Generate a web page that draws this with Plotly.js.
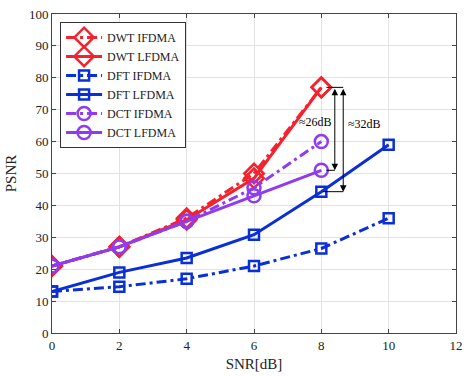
<!DOCTYPE html>
<html><head><meta charset="utf-8">
<script src="https://cdn.plot.ly/plotly-3.0.1.min.js"></script>
<style>html,body{margin:0;padding:0;background:#fff}#g{width:474px;height:376px}</style>
</head><body><div id="g"></div>
<script>
const snr = [0, 2, 4, 6, 8, 10];
const dwtIFDMA = [21, 27, 36, 50, 77];
const dwtLFDMA = [21, 27, 35.5, 48.5, 77];
const dftIFDMA = [13, 14.5, 17, 21, 26.5, 36];
const dftLFDMA = [13, 19, 23.5, 30.8, 44.3, 59];
const dctIFDMA = [21, 27, 35, 45.5, 60];
const dctLFDMA = [21, 27, 35, 43, 51];
const names = ['DWT IFDMA','DWT LFDMA','DFT IFDMA','DFT LFDMA','DCT IFDMA','DCT LFDMA'];
const gapLabels = ['≈26dB', '≈32dB'];

(function () {
const red = '#f5222d', blue = '#0a2fd6', purple = '#8f3cf0';
const dd = '10px,4px,3px,4px';
function tr(y, name, color, sym, size, dash) {
  return {x: snr.slice(0, y.length), y: y, name: name, type: 'scatter', mode: 'lines+markers',
    line: {color: color, width: 3, dash: dash},
    marker: {symbol: sym, size: size, color: color, line: {color: color, width: 2.5}}};
}
const data = [
  tr(dwtIFDMA, names[0], red, 'diamond-open', 15, dd),
  tr(dwtLFDMA, names[1], red, 'diamond-open', 15, 'solid'),
  tr(dftIFDMA, names[2], blue, 'square-open', 10, dd),
  tr(dftLFDMA, names[3], blue, 'square-open', 10, 'solid'),
  tr(dctIFDMA, names[4], purple, 'circle-open', 13, dd),
  tr(dctLFDMA, names[5], purple, 'circle-open', 13, 'solid')
];
const yTop = dwtLFDMA[4], b1 = dctLFDMA[4], b2 = dftLFDMA[4];
const xa1 = 8.4, xa2 = 8.65;
const arrowStyle = {showarrow: true, arrowhead: 2, arrowsize: 1.3, arrowwidth: 1, arrowcolor: '#000',
  axref: 'x', ayref: 'y', text: '', arrowside: 'end+start'};
const annotations = [
  Object.assign({}, arrowStyle, {x: xa1, y: b1, ax: xa1, ay: yTop}),
  Object.assign({}, arrowStyle, {x: xa2, y: b2, ax: xa2, ay: yTop}),
  {x: xa1 - 0.02, y: (yTop + b1) / 2 + 2, text: gapLabels[0], showarrow: false, xanchor: 'right',
   font: {family: 'Liberation Serif, serif', size: 12, color: '#000'}},
  {x: xa2 + 0.08, y: (yTop + b2) / 2 + 5, text: gapLabels[1], showarrow: false, xanchor: 'left',
   font: {family: 'Liberation Serif, serif', size: 12, color: '#000'}}
];
const shapes = [
  {type: 'line', x0: 8.15, x1: xa2, y0: yTop, y1: yTop, line: {color: '#000', width: 1}},
  {type: 'line', x0: 8.15, x1: xa1, y0: b1, y1: b1, line: {color: '#000', width: 1}},
  {type: 'line', x0: 8.05, x1: xa2, y0: b2, y1: b2, line: {color: '#000', width: 1}}
];
const font = {family: 'Liberation Serif, DejaVu Serif, serif', size: 13, color: '#222'};
const layout = {
  width: 474, height: 376,
  margin: {l: 52, r: 18, t: 14, b: 43},
  paper_bgcolor: '#fff', plot_bgcolor: '#fff',
  font: font,
  showlegend: true,
  legend: {x: 0.02, y: 0.975, xanchor: 'left', yanchor: 'top', bgcolor: '#fff',
    bordercolor: '#333', borderwidth: 1, font: {family: font.family, size: 12, color: '#222'},
    itemwidth: 36, tracegroupgap: 0},
  xaxis: {range: [0, 12], dtick: 2, tick0: 0, showgrid: true, gridcolor: '#e3e3e3', zeroline: false,
    ticks: 'inside', ticklen: 4, tickcolor: '#444', showline: true, linecolor: '#444', linewidth: 1, mirror: 'ticks',
    title: {text: 'SNR[dB]', font: {family: font.family, size: 15, color: '#222'}, standoff: 6}},
  yaxis: {range: [0, 100], dtick: 10, showgrid: true, gridcolor: '#e3e3e3', zeroline: false,
    ticks: 'inside', ticklen: 4, tickcolor: '#444', showline: true, linecolor: '#444', linewidth: 1, mirror: 'ticks',
    title: {text: 'PSNR', font: {family: font.family, size: 15, color: '#222'}, standoff: 8}},
  annotations: annotations, shapes: shapes
};
Plotly.newPlot('g', data, layout, {displayModeBar: false, staticPlot: true});
})();
</script></body></html>
